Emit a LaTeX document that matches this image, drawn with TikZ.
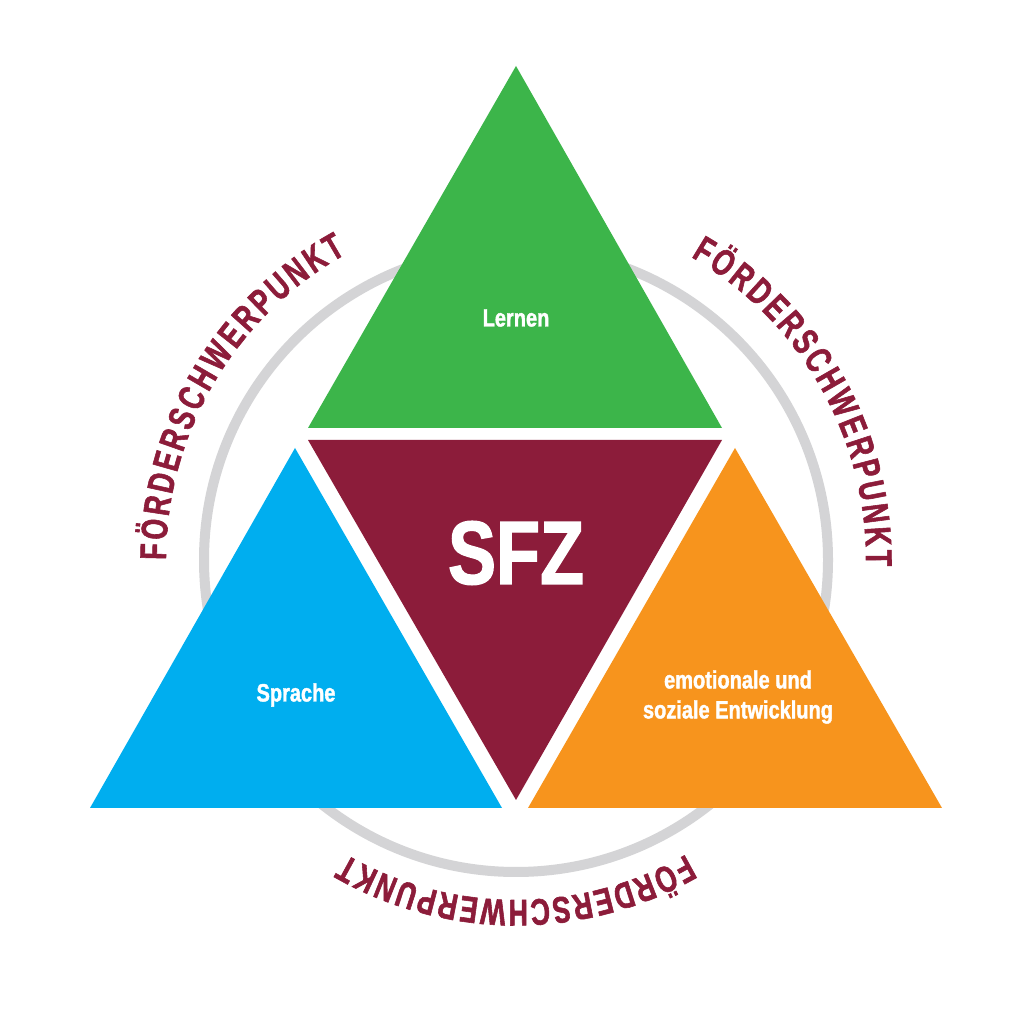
\documentclass[tikz,border=0pt]{standalone}
\usepackage{fontspec}
\setmainfont{Liberation Sans}
\newfontfamily\cond[FakeStretch=0.8,FakeBold=1.5]{Liberation Sans Bold}
\newfontfamily\condarc[FakeStretch=0.72,FakeBold=1.5]{Liberation Sans Bold}
\usetikzlibrary{decorations.text}
\definecolor{maroon}{HTML}{8C1C3A}
\definecolor{grn}{HTML}{3CB54A}
\definecolor{blu}{HTML}{00AEEF}
\definecolor{org}{HTML}{F7941D}
\definecolor{ring}{HTML}{D4D4D6}
\begin{document}
\begin{tikzpicture}[x=1pt,y=1pt,
  lbl/.style={text=white,font=\cond\fontsize{25}{30}\selectfont,align=center},
  arctext/.style={decorate,decoration={text along path,text align=fit to path,
    text={|\condarc\fontsize{37}{37}\selectfont\color{maroon}|FÖRDERSCHWERPUNKT}}}]
\useasboundingbox[fill=white] (0,0) rectangle (1024,1024);
\coordinate (c) at (516,464);
\draw[ring,line width=10pt] (c) circle (312);
\fill[grn] (516,958) -- (308,596) -- (722,596) -- cycle;
\fill[maroon] (308,584) -- (722,584) -- (516,224) -- cycle;
\fill[blu] (295,576) -- (90,216) -- (502,216) -- cycle;
\fill[org] (735,576) -- (528,216) -- (942,216) -- cycle;
\node[lbl] (lernen) at (516,706) {Lernen};
\node[text=white,font=\cond\fontsize{90}{90}\selectfont] (sfz) at (516,471) {SFZ};
\node[lbl] (sprache) at (296,329) {Sprache};
\node[lbl] (emo) at (738,327) {emotionale und\\soziale Entwicklung};
\path[arctext] ([shift={(180:350)}]c) arc[start angle=180,end angle=119,radius=350];
\path[arctext] ([shift={(60:350)}]c) arc[start angle=60,end angle=-1,radius=350];
\path[arctext] ([shift={(-60:340)}]c) arc[start angle=-60,end angle=-120,radius=340];
\end{tikzpicture}
\end{document}
